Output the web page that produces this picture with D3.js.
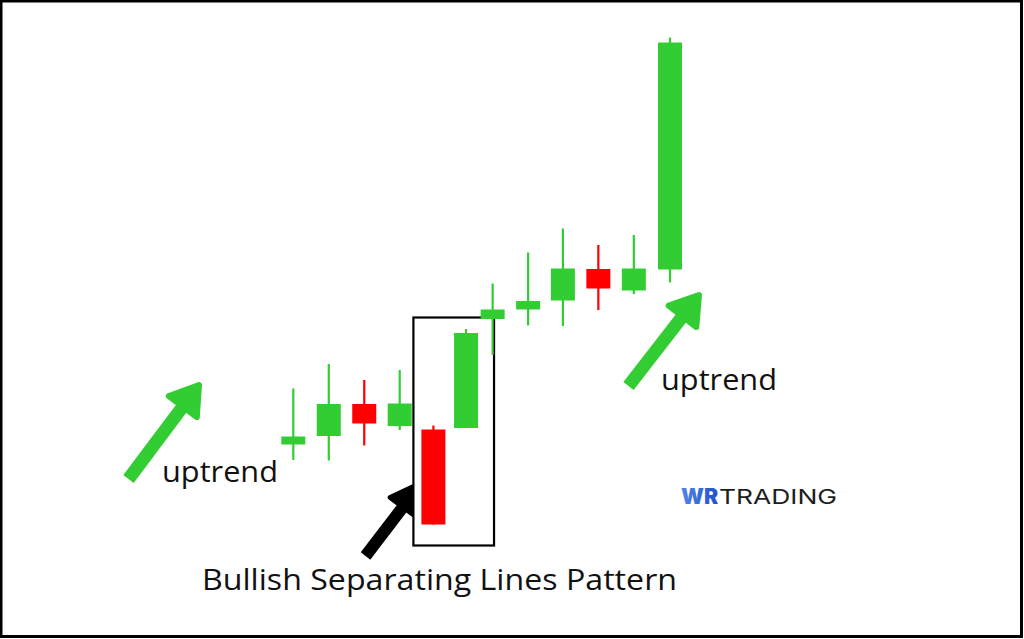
<!DOCTYPE html>
<html><head><meta charset="utf-8">
<script src="https://cdn.jsdelivr.net/npm/d3@7"></script>
<style>html,body{margin:0;padding:0;background:#fff;}svg{display:block;}</style>
</head><body>
<svg id="c" width="1024" height="639"></svg>
<script>
// ---- data ----
const slots = [0, 1, 2, 3, 3.95, 4.87, 5.62, 6.62, 7.6, 8.6, 9.6, 10.62];
const opens  = [23.1, 24.8, 31.2, 26.8, 26.1, 26.4, 48.2, 50.1, 51.9, 58.2, 53.9, 58.1];
const closes = [24.7, 31.2, 27.3, 31.3, 7.1, 45.4, 50.1, 51.8, 58.3, 54.3, 58.3, 103.5];
const highs  = [34.3, 39.2, 36.0, 38.0, 26.9, 46.2, 55.3, 61.5, 66.3, 63.0, 65.0, 104.5];
const lows   = [20.0, 19.9, 22.9, 26.0, 7.1, 26.4, 41.0, 46.9, 46.8, 50.0, 53.2, 55.5];
const patternIdx = [4, 5];
const labels = {trend: "uptrend", pattern: "Bullish Separating Lines Pattern", brandA: "WR", brandB: "TRADING"};

const candles = slots.map((s, i) => ({s, o: opens[i], c: closes[i], h: highs[i], l: lows[i]}));

// ---- layout ----
const W = 1024, H = 639;
const svg = d3.select("#c");
const x = d3.scaleLinear().domain([0, 10.62]).range([293.3, 670]);
const y = d3.scaleLinear().domain([0, 105]).range([560, 35]);
const bodyW = 24;
const GREEN = "#32cd32", RED = "#ff0000";

svg.append("rect").attr("x", 0).attr("y", 0).attr("width", W).attr("height", H).attr("fill", "#fff");

// green arrows
function greenArrow(g, tail, tip) {
  const dx = tip[0] - tail[0], dy = tip[1] - tail[1];
  const L = Math.hypot(dx, dy), ux = dx / L, uy = dy / L, px = -uy, py = ux;
  const headLen = 27, half = 17.5;
  const base = [tip[0] - ux * headLen, tip[1] - uy * headLen];
  g.append("line").attr("x1", tail[0]).attr("y1", tail[1])
    .attr("x2", base[0] + ux * 4).attr("y2", base[1] + uy * 4)
    .attr("stroke", GREEN).attr("stroke-width", 13);
  const pts = [tip, [base[0] + px * half, base[1] + py * half], [base[0] - px * half, base[1] - py * half]];
  g.append("path").attr("d", "M" + pts.map(p => p.join(",")).join("L") + "Z")
    .attr("fill", GREEN).attr("stroke", GREEN).attr("stroke-width", 6).attr("stroke-linejoin", "round");
}
const ann = svg.append("g");
greenArrow(ann, [128.5, 479], [199, 385]);
greenArrow(ann, [628.5, 386], [699, 295]);

// black arrow (behind the pattern box)
(function () {
  const tail = [365.5, 556], dir = [0.597, -0.802], perp = [-0.802, -0.597];
  const M = [403, 507];
  ann.append("line").attr("x1", tail[0]).attr("y1", tail[1]).attr("x2", M[0] + dir[0] * 3).attr("y2", M[1] + dir[1] * 3)
    .attr("stroke", "#000").attr("stroke-width", 12);
  const tip = [M[0] + dir[0] * 30, M[1] + dir[1] * 30];
  const a = [M[0] + perp[0] * 16, M[1] + perp[1] * 16], b = [M[0] - perp[0] * 16, M[1] - perp[1] * 16];
  ann.append("path").attr("d", `M${tip}L${a}L${b}Z`).attr("fill", "#000").attr("stroke", "#000")
    .attr("stroke-width", 5).attr("stroke-linejoin", "round");
})();

// pattern box
const pc = patternIdx.map(i => candles[i]);
const bx0 = x(pc[0].s) - bodyW / 2 - 8, bx1 = x(pc[1].s) + bodyW / 2 + 16;
const by0 = y(d3.max(pc, d => d.h)) - 11.5, by1 = y(d3.min(pc, d => d.l)) + 21;
svg.append("rect").attr("x", bx0).attr("y", by0).attr("width", bx1 - bx0).attr("height", by1 - by0)
  .attr("fill", "#fff").attr("stroke", "#000").attr("stroke-width", 2.2);

// candles
const cg = svg.append("g").selectAll("g").data(candles).join("g");
cg.append("line")
  .attr("x1", d => x(d.s)).attr("x2", d => x(d.s))
  .attr("y1", d => y(d.h)).attr("y2", d => y(d.l))
  .attr("stroke", d => d.c >= d.o ? GREEN : RED).attr("stroke-width", 2.2);
cg.append("rect")
  .attr("x", d => x(d.s) - bodyW / 2).attr("width", bodyW)
  .attr("y", d => y(Math.max(d.o, d.c)))
  .attr("height", d => Math.max(1, Math.abs(y(d.o) - y(d.c))))
  .attr("fill", d => d.c >= d.o ? GREEN : RED);

// texts
const font = "'Open Sans', 'Noto Sans', sans-serif";
function label(tx, ty, str, size, len) {
  svg.append("text").attr("x", tx).attr("y", ty).text(str)
    .attr("font-family", font).attr("font-size", size).attr("fill", "#111")
    .attr("textLength", len).attr("lengthAdjust", "spacingAndGlyphs");
}
label(162, 482, labels.trend, 29, 116);
label(661, 390, labels.trend, 29, 116);
label(202, 590, labels.pattern, 29, 475);

// brand
const defs = svg.append("defs");
const grad = defs.append("linearGradient").attr("id", "wr").attr("x1", "0").attr("x2", "1");
grad.append("stop").attr("offset", "0").attr("stop-color", "#4f86e8");
grad.append("stop").attr("offset", "1").attr("stop-color", "#2450c8");
svg.append("text").attr("x", 681).attr("y", 503.5).text(labels.brandA)
  .attr("font-family", "Inter, 'Open Sans', sans-serif").attr("font-size", 21).attr("font-weight", 900)
  .attr("fill", "url(#wr)").attr("textLength", 37).attr("lengthAdjust", "spacingAndGlyphs");
svg.append("text").attr("x", 719).attr("y", 503.5).text(labels.brandB)
  .attr("font-family", "Inter, 'Open Sans', sans-serif").attr("font-size", 20.5).attr("font-weight", 400)
  .attr("fill", "#1e1e1e").attr("textLength", 118).attr("lengthAdjust", "spacingAndGlyphs");

// frame
svg.append("rect").attr("x", 1).attr("y", 1).attr("width", 1020.5).attr("height", 635.5)
  .attr("fill", "none").attr("stroke", "#000").attr("stroke-width", 3);
</script>
</body></html>
